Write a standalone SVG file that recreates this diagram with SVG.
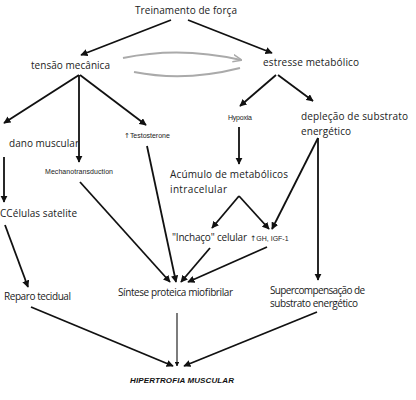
<svg xmlns="http://www.w3.org/2000/svg" width="416" height="400" viewBox="0 0 416 400">
<defs>
<marker id="ah" viewBox="0 0 10 10" refX="9" refY="5" markerWidth="4" markerHeight="4" orient="auto" markerUnits="strokeWidth">
<path d="M0,0 L10,5 L0,10 z" fill="#111"/>
</marker>
<marker id="ahg" viewBox="0 0 10 10" refX="9" refY="5" markerWidth="4.5" markerHeight="4.5" orient="auto" markerUnits="strokeWidth">
<path d="M0,1 L10,5 L0,9" fill="none" stroke="#aaa" stroke-width="1.6"/>
</marker>
<style>
.t{font-family:"Open Sans","Liberation Sans",sans-serif;font-size:10px;fill:#222}
.s{font-family:"Liberation Sans Narrow","Liberation Sans",sans-serif;font-size:7px;fill:#222}
.ar{font-family:"DejaVu Sans",sans-serif}
.c{stroke:#111;stroke-width:1.8;fill:none}
.ca{stroke:#111;stroke-width:1.8;fill:none;marker-end:url(#ah)}
.th{stroke:#111;stroke-width:1.1;fill:none;marker-end:url(#ah)}
.g{stroke:#aaa;stroke-width:2;fill:none}
</style>
</defs>
<rect width="416" height="400" fill="#fff"/>
<g id="connectors">
<line class="ca" x1="171" y1="20" x2="81" y2="55"/>
<line class="ca" x1="188" y1="20" x2="272" y2="53"/>
<path class="g" d="M123,58 Q180,46 241,60" marker-end="url(#ahg)"/>
<path class="g" d="M134,72 Q185,82 240,68"/>
<line class="ca" x1="79" y1="75" x2="4" y2="123"/>
<line class="ca" x1="79" y1="75" x2="79" y2="162"/>
<line class="ca" x1="80" y1="75" x2="146" y2="125"/>
<line class="ca" x1="4" y1="157" x2="4" y2="202"/>
<line class="ca" x1="5" y1="225" x2="28" y2="287"/>
<line class="ca" x1="31" y1="307" x2="173" y2="366"/>
<line class="ca" x1="80" y1="182" x2="170" y2="282"/>
<line class="ca" x1="147" y1="146" x2="176" y2="282"/>
<line class="ca" x1="210" y1="248" x2="181" y2="282"/>
<line class="ca" x1="267" y1="247" x2="188" y2="282"/>
<line class="th" x1="177" y1="313" x2="177" y2="366"/>
<line class="ca" x1="317" y1="312" x2="184" y2="366"/>
<line class="ca" x1="276" y1="75" x2="240" y2="106"/>
<line class="ca" x1="278" y1="75" x2="313" y2="101"/>
<line class="ca" x1="239" y1="127" x2="239" y2="164"/>
<line class="ca" x1="239" y1="196" x2="212" y2="228"/>
<line class="ca" x1="239" y1="196" x2="269" y2="229"/>
<line class="ca" x1="318" y1="138" x2="272" y2="229"/>
<line class="ca" x1="318" y1="138" x2="318" y2="280"/>
</g>
<g id="n-treinamento"><text class="t" x="186" y="13.5" text-anchor="middle" textLength="102">Treinamento de força</text></g>
<g id="n-tensao"><text class="t" x="31" y="69" textLength="79">tensão mecânica</text></g>
<g id="n-estresse"><text class="t" x="263" y="65.5" textLength="96">estresse metabólico</text></g>
<g id="n-dano"><text class="t" x="9" y="147" textLength="70">dano muscular</text></g>
<g id="n-mechano"><text class="s" x="45" y="174" textLength="68">Mechanotransduction</text></g>
<g id="n-testo"><text class="s" x="124" y="137.5"><tspan class="ar" font-size="7">↑</tspan><tspan textLength="40">Testosterone</tspan></text></g>
<g id="n-celulas"><text class="t" x="0" y="217" textLength="77">CCélulas satelite</text></g>
<g id="n-reparo"><text class="t" x="4" y="300" font-size="9" textLength="67">Reparo tecidual</text></g>
<g id="n-sintese"><text class="t" x="118" y="296" font-size="9" textLength="115">Síntese proteica miofibrilar</text></g>
<g id="n-hipertrofia"><text x="130" y="383" font-family="'Liberation Sans',sans-serif" font-size="8" font-weight="bold" font-style="italic" fill="#111" textLength="104">HIPERTROFIA MUSCULAR</text></g>
<g id="n-hypoxia"><text class="s" x="228" y="120" font-size="6.5" textLength="24">Hypoxia</text></g>
<g id="n-deplecao"><text class="t" x="301" y="120" textLength="107">depleção de substrato</text><text class="t" x="301" y="134.5" textLength="50">energético</text></g>
<g id="n-acumulo"><text class="t" x="170" y="178" textLength="118">Acúmulo de metabólicos</text><text class="t" x="170" y="192.5" textLength="57">intracelular</text></g>
<g id="n-inchaco"><text class="t" x="172" y="241" font-size="9" textLength="75">"Inchaço" celular</text></g>
<g id="n-gh"><text class="s" x="250" y="241" font-size="7.5"><tspan class="ar" font-size="7.5">↑</tspan>GH, IGF-1</text></g>
<g id="n-super"><text class="t" x="270" y="294" font-size="8.5" textLength="95">Supercompensação de</text><text class="t" x="270" y="306.5" font-size="8.5" textLength="88">substrato energético</text></g>
</svg>
